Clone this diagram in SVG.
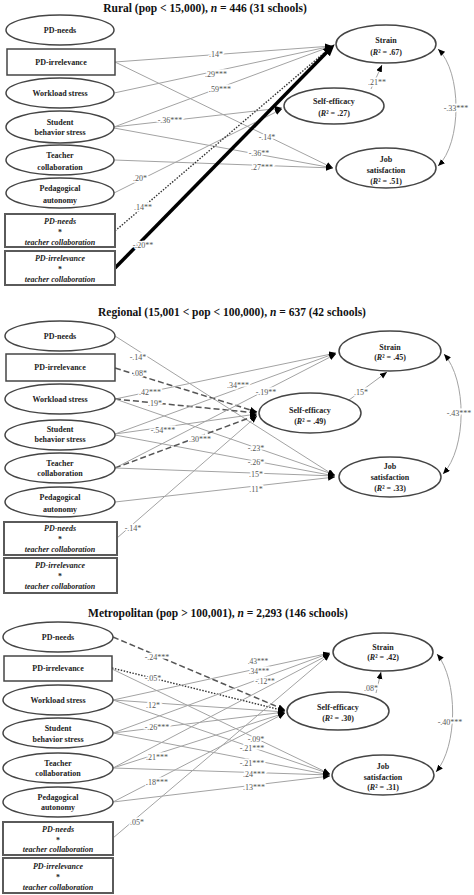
<svg xmlns="http://www.w3.org/2000/svg" width="474" height="895" viewBox="0 0 474 895">
<defs>
<style>
.nd{fill:#fff;stroke:#454545;stroke-width:1.5}
.bx{fill:#fff;stroke:#5a5a5a;stroke-width:2}
.t{font-family:"Liberation Serif","Times New Roman",serif;font-weight:bold;font-size:8px;text-anchor:middle;fill:#222}
.it{font-style:italic}
.h{font-family:"Liberation Serif","Times New Roman",serif;font-weight:bold;font-size:11.5px;text-anchor:middle;fill:#111}
.e{stroke:#a3a3a3;stroke-width:1;fill:none;marker-end:url(#a)}
.d{stroke:#555;stroke-width:1.5;stroke-dasharray:6 3;fill:none;marker-end:url(#a)}
.o{stroke:#333;stroke-width:1.4;stroke-dasharray:1.5 1.5;fill:none;marker-end:url(#a)}
.k{stroke:#000;stroke-width:3.5;fill:none;marker-end:url(#b)}
.c{stroke:#a3a3a3;stroke-width:1;fill:none;marker-start:url(#s);marker-end:url(#a)}
.l{font-family:"Liberation Serif","Times New Roman",serif;font-size:8px;text-anchor:middle;fill:#555;stroke:#fff;stroke-width:3;paint-order:stroke}
.sm{font-size:7.5px}
</style>
<marker id="a" markerUnits="userSpaceOnUse" markerWidth="8" markerHeight="7" refX="7" refY="3" orient="auto"><path d="M0,0 L7,3 L0,6 z" fill="#000"/></marker>
<marker id="s" markerUnits="userSpaceOnUse" markerWidth="8" markerHeight="7" refX="0" refY="3" orient="auto"><path d="M7,0 L0,3 L7,6 z" fill="#000"/></marker>
<marker id="b" markerUnits="userSpaceOnUse" markerWidth="13" markerHeight="11" refX="1" refY="5" orient="auto"><path d="M0,0 L12,5 L0,10 z" fill="#000"/></marker>
</defs>
<rect width="474" height="895" fill="#fff"/>

<text class="h" x="205" y="12">Rural (pop &lt; 15,000), <tspan class="it">n</tspan> = 446 (31 schools)</text>
<text class="h" x="232" y="316">Regional (15,001 &lt; pop &lt; 100,000), <tspan class="it">n</tspan> = 637 (42 schools)</text>
<text class="h" x="218" y="617">Metropolitan (pop &gt; 100,001), <tspan class="it">n</tspan> = 2,293 (146 schools)</text>

<g id="connectors">
<!-- panel 1 -->
<path class="e" d="M115,62 L332,46"/>
<path class="e" d="M114,93 L332,46"/>
<path class="e" d="M114,127 L332,46"/>
<path class="e" d="M114,127 L282,108"/>
<path class="e" d="M114,128 L333,168"/>
<path class="e" d="M115,62 L333,168"/>
<path class="e" d="M114,160 L333,168"/>
<path class="e" d="M114,193 L282,109"/>
<path class="o" d="M115,231 L331,47"/>
<path class="k" d="M115,268 L327,52"/>
<path class="e" d="M371,89 L382,65"/>
<path class="c" d="M438,49 C462,72 462,143 438,166"/>
<!-- panel 2 -->
<path class="e" d="M115,336 L335,476"/>
<path class="d" d="M115,368 L257,412"/>
<path class="e" d="M115,399 L336,353"/>
<path class="d" d="M115,399 L257,413"/>
<path class="e" d="M115,399 L335,475"/>
<path class="e" d="M115,434 L336,353"/>
<path class="e" d="M115,434 L257,414"/>
<path class="e" d="M115,435 L335,476"/>
<path class="e" d="M115,468 L336,354"/>
<path class="d" d="M115,468 L257,415"/>
<path class="e" d="M115,468 L335,476"/>
<path class="e" d="M115,502 L335,477"/>
<path class="e" d="M117,538 L257,416"/>
<path class="e" d="M349,400 L387,372"/>
<path class="c" d="M444,354 C467,380 467,448 443,474"/>
<!-- panel 3 -->
<path class="d" d="M113,637 L285,710"/>
<path class="o" d="M112,668 L285,711"/>
<path class="e" d="M112,669 L330,774"/>
<path class="e" d="M113,700 L330,653"/>
<path class="e" d="M113,700 L285,712"/>
<path class="e" d="M113,700 L330,774"/>
<path class="e" d="M113,733 L330,653"/>
<path class="e" d="M113,733 L285,712"/>
<path class="e" d="M113,733 L330,775"/>
<path class="e" d="M113,768 L330,654"/>
<path class="e" d="M113,768 L285,713"/>
<path class="e" d="M113,768 L330,775"/>
<path class="e" d="M113,802 L285,713"/>
<path class="e" d="M113,802 L330,776"/>
<path class="e" d="M113,838 L330,654"/>
<path class="e" d="M376,693 L381,672"/>
<path class="c" d="M437,654 C458,680 458,746 436,772"/>
</g>

<g id="edge-labels">
<text class="l" x="216" y="57">.14*</text>
<text class="l" x="216" y="77">.29***</text>
<text class="l" x="220" y="92">.59***</text>
<text class="l" x="170" y="123">-.36***</text>
<text class="l" x="377" y="85">.21**</text>
<text class="l" x="267" y="140">-.14*</text>
<text class="l" x="259" y="156">-.36**</text>
<text class="l" x="262" y="170">.27***</text>
<text class="l" x="140" y="181">.20*</text>
<text class="l" x="143" y="210">.14**</text>
<text class="l" x="143" y="248">-.20**</text>
<text class="l" x="456" y="111">-.33***</text>

<text class="l" x="138" y="360">-.14*</text>
<text class="l" x="140" y="376">.08*</text>
<text class="l" x="150" y="395">.42***</text>
<text class="l" x="155" y="406">.19*</text>
<text class="l" x="163" y="433">-.54***</text>
<text class="l" x="200" y="442">.30***</text>
<text class="l" x="238" y="388">.34***</text>
<text class="l" x="266" y="395">-.19**</text>
<text class="l" x="361" y="395">.15*</text>
<text class="l" x="459" y="416">-.43***</text>
<text class="l" x="256" y="451">-.23*</text>
<text class="l" x="256" y="465">-.26*</text>
<text class="l" x="256" y="477">.15*</text>
<text class="l" x="256" y="492">.11*</text>
<text class="l" x="133" y="531">-.14*</text>

<text class="l" x="157" y="660">-.24***</text>
<text class="l" x="153" y="681">-.05*</text>
<text class="l" x="153" y="708">.12*</text>
<text class="l" x="157" y="730">-.26***</text>
<text class="l" x="157" y="760">.21***</text>
<text class="l" x="157" y="785">.18***</text>
<text class="l" x="137" y="825">.05*</text>
<text class="l sm" x="258" y="664">.43***</text>
<text class="l sm" x="259" y="674">.34***</text>
<text class="l sm" x="265" y="684">-.12**</text>
<text class="l" x="371" y="691">.08*</text>
<text class="l" x="450" y="725">-.40***</text>
<text class="l" x="256" y="742">-.09*</text>
<text class="l" x="252" y="751">-.21***</text>
<text class="l" x="252" y="766">-.21***</text>
<text class="l" x="254" y="777">.24***</text>
<text class="l" x="254" y="790">.13***</text>
</g>

<!-- Panel 1 nodes -->
<g id="p1-pdneeds"><ellipse class="nd" cx="60" cy="30" rx="54" ry="15"/><text class="t" x="60" y="33">PD-needs</text></g>
<g id="p1-pdirrel"><rect class="nd" x="7" y="49" width="108" height="26"/><text class="t" x="61" y="65">PD-irrelevance</text></g>
<g id="p1-workload"><ellipse class="nd" cx="60" cy="93" rx="54" ry="15"/><text class="t" x="60" y="96">Workload stress</text></g>
<g id="p1-student"><ellipse class="nd" cx="60" cy="127" rx="54" ry="16"/><text class="t" x="60" y="125">Student</text><text class="t" x="60" y="135">behavior stress</text></g>
<g id="p1-teacher"><ellipse class="nd" cx="60" cy="160" rx="54" ry="15"/><text class="t" x="60" y="158">Teacher</text><text class="t" x="60" y="170">collaboration</text></g>
<g id="p1-ped"><ellipse class="nd" cx="60" cy="193" rx="54" ry="15"/><text class="t" x="60" y="191">Pedagogical</text><text class="t" x="60" y="203">autonomy</text></g>
<g id="p1-needsxtc"><rect class="bx" x="5" y="214" width="110" height="33"/><text class="t it" x="60" y="224">PD-needs</text><text class="t" x="60" y="235">*</text><text class="t it" x="60" y="245">teacher collaboration</text></g>
<g id="p1-irrelxtc"><rect class="bx" x="5" y="251" width="110" height="34"/><text class="t it" x="60" y="261">PD-irrelevance</text><text class="t" x="60" y="272">*</text><text class="t it" x="60" y="282">teacher collaboration</text></g>
<g id="p1-strain"><ellipse class="nd" cx="386" cy="44" rx="50" ry="19"/><text class="t" x="386" y="43">Strain</text><text class="t" x="386" y="55">(<tspan class="it">R</tspan>² = .67)</text></g>
<g id="p1-se"><ellipse class="nd" cx="334" cy="106" rx="50" ry="18"/><text class="t" x="334" y="104">Self-efficacy</text><text class="t" x="334" y="116">(<tspan class="it">R</tspan>² = .27)</text></g>
<g id="p1-js"><ellipse class="nd" cx="386" cy="168" rx="50" ry="20"/><text class="t" x="386" y="162">Job</text><text class="t" x="386" y="173">satisfaction</text><text class="t" x="386" y="184">(<tspan class="it">R</tspan>² = .51)</text></g>

<!-- Panel 2 nodes -->
<g id="p2-pdneeds"><ellipse class="nd" cx="60" cy="336" rx="55" ry="15"/><text class="t" x="60" y="339">PD-needs</text></g>
<g id="p2-pdirrel"><rect class="nd" x="6" y="354" width="109" height="27"/><text class="t" x="60" y="370">PD-irrelevance</text></g>
<g id="p2-workload"><ellipse class="nd" cx="60" cy="399" rx="55" ry="15"/><text class="t" x="60" y="402">Workload stress</text></g>
<g id="p2-student"><ellipse class="nd" cx="60" cy="435" rx="55" ry="15"/><text class="t" x="60" y="432">Student</text><text class="t" x="60" y="442">behavior stress</text></g>
<g id="p2-teacher"><ellipse class="nd" cx="60" cy="468" rx="55" ry="15"/><text class="t" x="60" y="466">Teacher</text><text class="t" x="60" y="476">collaboration</text></g>
<g id="p2-ped"><ellipse class="nd" cx="60" cy="502" rx="55" ry="15"/><text class="t" x="60" y="500">Pedagogical</text><text class="t" x="60" y="512">autonomy</text></g>
<g id="p2-needsxtc"><rect class="bx" x="4" y="522" width="113" height="33"/><text class="t it" x="60" y="531">PD-needs</text><text class="t" x="60" y="542">*</text><text class="t it" x="60" y="552">teacher collaboration</text></g>
<g id="p2-irrelxtc"><rect class="bx" x="4" y="558" width="113" height="35"/><text class="t it" x="60" y="568">PD-irrelevance</text><text class="t" x="60" y="579">*</text><text class="t it" x="60" y="589">teacher collaboration</text></g>
<g id="p2-strain"><ellipse class="nd" cx="390" cy="351" rx="51" ry="20"/><text class="t" x="390" y="350">Strain</text><text class="t" x="390" y="360">(<tspan class="it">R</tspan>² = .45)</text></g>
<g id="p2-se"><ellipse class="nd" cx="310" cy="413" rx="51" ry="20"/><text class="t" x="310" y="413">Self-efficacy</text><text class="t" x="310" y="424">(<tspan class="it">R</tspan>² = .49)</text></g>
<g id="p2-js"><ellipse class="nd" cx="390" cy="477" rx="51" ry="20"/><text class="t" x="390" y="469">Job</text><text class="t" x="390" y="480">satisfaction</text><text class="t" x="390" y="491">(<tspan class="it">R</tspan>² = .33)</text></g>

<!-- Panel 3 nodes -->
<g id="p3-pdneeds"><ellipse class="nd" cx="58" cy="637" rx="55" ry="15"/><text class="t" x="58" y="640">PD-needs</text></g>
<g id="p3-pdirrel"><rect class="nd" x="4" y="656" width="108" height="25"/><text class="t" x="58" y="671">PD-irrelevance</text></g>
<g id="p3-workload"><ellipse class="nd" cx="58" cy="700" rx="55" ry="15"/><text class="t" x="58" y="703">Workload stress</text></g>
<g id="p3-student"><ellipse class="nd" cx="58" cy="733" rx="55" ry="15"/><text class="t" x="58" y="731">Student</text><text class="t" x="58" y="742">behavior stress</text></g>
<g id="p3-teacher"><ellipse class="nd" cx="58" cy="768" rx="55" ry="15"/><text class="t" x="58" y="766">Teacher</text><text class="t" x="58" y="776">collaboration</text></g>
<g id="p3-ped"><ellipse class="nd" cx="58" cy="802" rx="55" ry="15"/><text class="t" x="58" y="800">Pedagogical</text><text class="t" x="58" y="810">autonomy</text></g>
<g id="p3-needsxtc"><rect class="bx" x="3" y="822" width="110" height="33"/><text class="t it" x="58" y="832">PD-needs</text><text class="t" x="58" y="843">*</text><text class="t it" x="58" y="852">teacher collaboration</text></g>
<g id="p3-irrelxtc"><rect class="bx" x="3" y="858" width="110" height="35"/><text class="t it" x="58" y="869">PD-irrelevance</text><text class="t" x="58" y="880">*</text><text class="t it" x="58" y="890">teacher collaboration</text></g>
<g id="p3-strain"><ellipse class="nd" cx="383" cy="652" rx="50" ry="19"/><text class="t" x="383" y="650">Strain</text><text class="t" x="383" y="660">(<tspan class="it">R</tspan>² = .42)</text></g>
<g id="p3-se"><ellipse class="nd" cx="338" cy="711" rx="51" ry="19"/><text class="t" x="338" y="710">Self-efficacy</text><text class="t" x="338" y="721">(<tspan class="it">R</tspan>² = .30)</text></g>
<g id="p3-js"><ellipse class="nd" cx="383" cy="775" rx="51" ry="20"/><text class="t" x="383" y="769">Job</text><text class="t" x="383" y="780">satisfaction</text><text class="t" x="383" y="790">(<tspan class="it">R</tspan>² = .31)</text></g>
</svg>
